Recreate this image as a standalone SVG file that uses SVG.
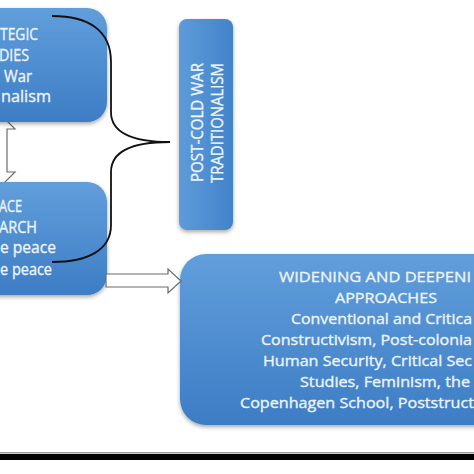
<svg xmlns="http://www.w3.org/2000/svg" width="474" height="474" viewBox="0 0 474 474">
  <defs>
    <linearGradient id="blue" x1="0" y1="0" x2="0" y2="1">
      <stop offset="0" stop-color="#619edb"/>
      <stop offset="1" stop-color="#3d7dc5"/>
    </linearGradient>
    <linearGradient id="blueV" x1="0" y1="0" x2="1" y2="0">
      <stop offset="0" stop-color="#5e9bd9"/>
      <stop offset="1" stop-color="#4283ca"/>
    </linearGradient>
    <filter id="shadow" x="-10%" y="-10%" width="120%" height="125%">
      <feGaussianBlur in="SourceAlpha" stdDeviation="2"/>
      <feOffset dx="0" dy="2" result="b"/>
      <feComponentTransfer><feFuncA type="linear" slope="0.35"/></feComponentTransfer>
      <feMerge><feMergeNode/><feMergeNode in="SourceGraphic"/></feMerge>
    </filter>
  </defs>
  <style>
    .box { fill: url(#blue); filter: url(#shadow); }
    .vbox { fill: url(#blueV); filter: url(#shadow); }
    .t { font-family: "Open Sans", "Noto Sans", sans-serif; fill: #eef4fb; stroke: #eef4fb; stroke-width: 0.35; font-size: 15px; }
    .tl { font-family: "Open Sans", "Noto Sans", sans-serif; fill: #eef4fb; stroke: #eef4fb; stroke-width: 0.35; font-size: 16px; }
    .outline { fill: #ffffff; stroke: #6b6b6b; stroke-width: 1.2; }
    .brace { fill: none; stroke: #111111; stroke-width: 1.8; }
  </style>
  <rect width="474" height="474" fill="#ffffff"/>

  <g id="conn-double">
    <polygon class="outline" points="-3,111 15,129 7,129 7,172 15,172 -3,190 -21,172 -13,172 -13,129 -21,129"/>
  </g>

  <g id="strategic-studies">
    <rect class="box" x="-40" y="8" width="147" height="114" rx="20"/>
    <text class="tl" x="0" y="40" textLength="38" lengthAdjust="spacingAndGlyphs">TEGIC</text>
    <text class="tl" x="-1" y="61" textLength="30" lengthAdjust="spacingAndGlyphs">DIES</text>
    <text class="tl" x="4" y="82" textLength="28" lengthAdjust="spacingAndGlyphs">War</text>
    <text class="tl" x="1" y="102" textLength="50" lengthAdjust="spacingAndGlyphs">nalism</text>
  </g>

  <g id="peace-research">
    <rect class="box" x="-40" y="182" width="147" height="113" rx="20"/>
    <text class="tl" x="-1" y="212" textLength="23" lengthAdjust="spacingAndGlyphs">ACE</text>
    <text class="tl" x="-1" y="233" textLength="38" lengthAdjust="spacingAndGlyphs">ARCH</text>
    <text class="tl" x="0" y="253" textLength="56" lengthAdjust="spacingAndGlyphs">e peace</text>
    <text class="tl" x="0" y="275" textLength="52" lengthAdjust="spacingAndGlyphs">e peace</text>
  </g>

  <g id="post-cold-war">
    <rect class="vbox" x="179" y="19" width="54" height="211" rx="8"/>
    <text class="tl" transform="translate(203,122.5) rotate(-90)" text-anchor="middle" textLength="119" lengthAdjust="spacingAndGlyphs">POST-COLD WAR</text>
    <text class="tl" transform="translate(223,123) rotate(-90)" text-anchor="middle" textLength="120" lengthAdjust="spacingAndGlyphs">TRADITIONALISM</text>
  </g>

  <g id="widening-deepening">
    <rect class="box" x="180" y="254" width="340" height="171" rx="26"/>
    <text class="t" x="279" y="282" textLength="192" lengthAdjust="spacingAndGlyphs">WIDENING AND DEEPENI</text>
    <text class="t" x="335" y="303" textLength="102" lengthAdjust="spacingAndGlyphs">APPROACHES</text>
    <text class="t" x="291" y="324" textLength="181" lengthAdjust="spacingAndGlyphs">Conventional and Critica</text>
    <text class="t" x="261" y="345" textLength="211" lengthAdjust="spacingAndGlyphs">Constructivism, Post-colonia</text>
    <text class="t" x="263" y="366" textLength="209" lengthAdjust="spacingAndGlyphs">Human Security, Critical Sec</text>
    <text class="t" x="300" y="387" textLength="170" lengthAdjust="spacingAndGlyphs">Studies, Feminism, the</text>
    <text class="t" x="240" y="408" textLength="234" lengthAdjust="spacingAndGlyphs">Copenhagen School, Poststruct</text>
  </g>

  <g id="connectors">
    <path class="brace" d="M52,16 C88,16 111,30 111,62 L111,112 C111,132 130,142 170,142 C130,142 111,152 111,172 L111,225 C111,250 88,262 52,262"/>
    <polygon class="outline" points="106,274 168,274 168,269 181,281 168,293 168,287 106,287"/>
  </g>

  <rect x="0" y="452" width="474" height="1.5" fill="#9a9a9a"/>
  <rect x="0" y="454" width="474" height="6" fill="#000000"/>
</svg>
